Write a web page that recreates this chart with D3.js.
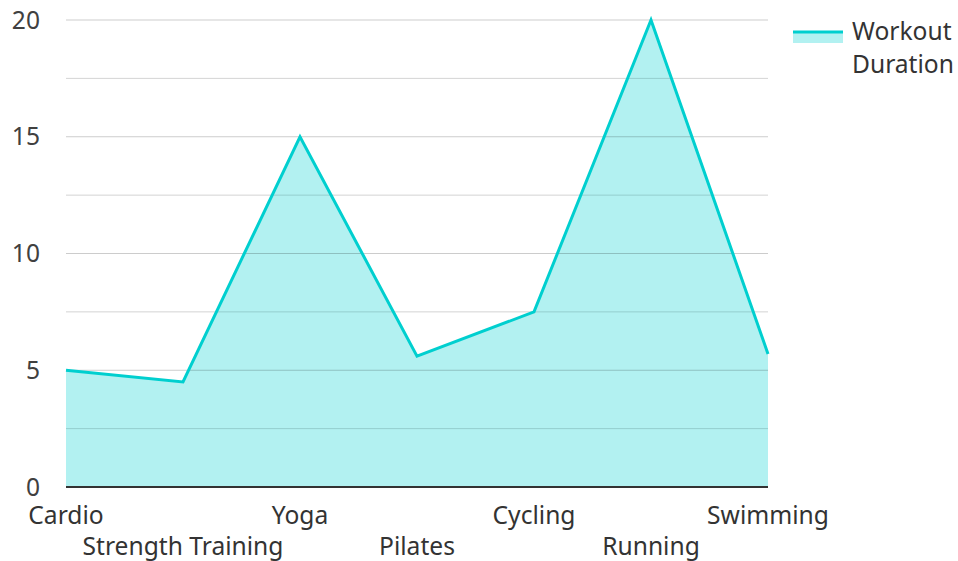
<!DOCTYPE html>
<html><head><meta charset="utf-8">
<script src="https://cdn.jsdelivr.net/npm/d3@7"></script>
<style>body{margin:0;background:#fff}text{font-family:"Noto Sans","Open Sans",sans-serif}</style>
</head><body><svg id="c" width="958" height="561"></svg>
<script>
const categories = ["Cardio","Strength Training","Yoga","Pilates","Cycling","Running","Swimming"];
const durations = [5, 4.5, 15, 5.6, 7.5, 20, 5.7];
const yTicks = [0, 5, 10, 15, 20];
const yMinorTicks = [2.5, 7.5, 12.5, 17.5];
const seriesName = ["Workout", "Duration"];

(function () {
const svg = d3.select("#c");
const L = 66, R = 768, T = 20, B = 487;
const x = d3.scalePoint().domain(categories).range([L, R]);
const y = d3.scaleLinear().domain([0, 20]).range([B, T]);
const color = "#00cfcf";
const fs = 24.6;
const data = categories.map((c, i) => ({c, v: durations[i]}));

svg.append("g").selectAll("line").data(yMinorTicks).join("line")
  .attr("x1", L).attr("x2", R).attr("y1", d => y(d)).attr("y2", d => y(d))
  .attr("stroke", "#e6e6e6").attr("stroke-width", 1);

svg.append("path").datum(data)
  .attr("d", d3.area().x(d => x(d.c)).y0(y(0)).y1(d => y(d.v)))
  .attr("fill", color).attr("fill-opacity", 0.3);

svg.append("g").selectAll("line").data(yMinorTicks).join("line")
  .attr("x1", L).attr("x2", R).attr("y1", d => y(d)).attr("y2", d => y(d))
  .attr("stroke", "rgba(0,0,0,0.08)").attr("stroke-width", 1);
svg.append("g").selectAll("line").data(yTicks.filter(d => d > 0)).join("line")
  .attr("x1", L).attr("x2", R).attr("y1", d => y(d)).attr("y2", d => y(d))
  .attr("stroke", "rgba(0,0,0,0.2)").attr("stroke-width", 1);

svg.append("path").datum(data)
  .attr("d", d3.line().x(d => x(d.c)).y(d => y(d.v)))
  .attr("fill", "none").attr("stroke", color).attr("stroke-width", 3).attr("stroke-linejoin", "miter");

svg.append("line").attr("x1", L).attr("x2", R).attr("y1", y(0)).attr("y2", y(0))
  .attr("stroke", "#333").attr("stroke-width", 2);

svg.append("g").selectAll("text").data(yTicks).join("text")
  .attr("x", 40).attr("y", d => y(d)).attr("dy", "0.35em").attr("text-anchor", "end")
  .attr("font-size", fs).attr("fill", "#404040").text(d => d);

svg.append("g").selectAll("text").data(categories).join("text")
  .attr("x", d => x(d)).attr("y", (d, i) => i % 2 === 0 ? 524 : 555)
  .attr("text-anchor", "middle").attr("font-size", fs).attr("fill", "#333").text(d => d);

const lg = svg.append("g");
lg.append("rect").attr("x", 793).attr("y", 31).attr("width", 50).attr("height", 12)
  .attr("fill", color).attr("fill-opacity", 0.3);
lg.append("line").attr("x1", 793).attr("x2", 843).attr("y1", 32).attr("y2", 32)
  .attr("stroke", color).attr("stroke-width", 3);
lg.selectAll("text").data(seriesName).join("text")
  .attr("x", 852).attr("y", (d, i) => 40 + i * 33).attr("font-size", fs).attr("fill", "#333").text(d => d);
})();
</script></body></html>
